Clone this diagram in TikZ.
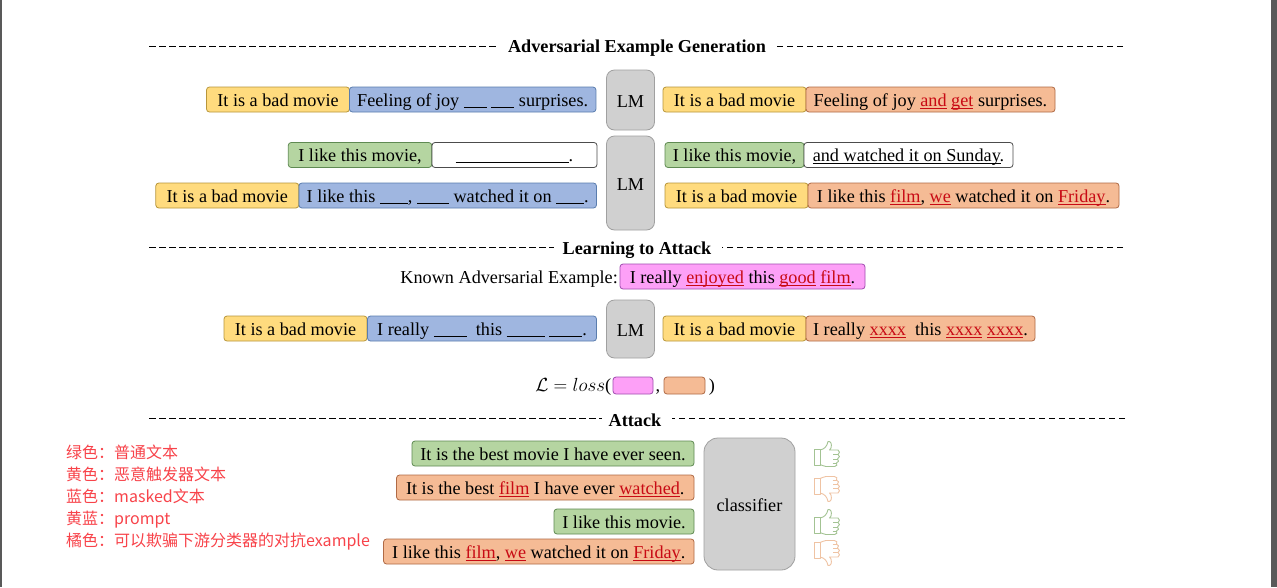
\documentclass[tikz,border=0pt]{standalone}
\usepackage{fontspec}
\setmainfont{Liberation Serif}
\newfontfamily\cjkf{Noto Sans CJK SC}
\definecolor{yelF}{HTML}{FFDB7E}\definecolor{yelD}{HTML}{B8963A}
\definecolor{bluF}{HTML}{9FB6E0}\definecolor{bluD}{HTML}{5A7DAE}
\definecolor{grnF}{HTML}{B5D5A1}\definecolor{grnD}{HTML}{5F8A52}
\definecolor{orgF}{HTML}{F5BB95}\definecolor{orgD}{HTML}{B06A45}
\definecolor{pnkF}{HTML}{FDA0F7}\definecolor{pnkD}{HTML}{A04CB0}
\definecolor{gryF}{HTML}{D0D0D0}\definecolor{gryD}{HTML}{A0A0A0}
\definecolor{redT}{HTML}{C80A14}\definecolor{legT}{HTML}{F8434A}
\definecolor{thU}{HTML}{A3C393}\definecolor{thD}{HTML}{EFC3A3}
\newlength{\ulwd}
\newcommand{\ulin}[1]{\settowidth{\ulwd}{#1}\rlap{\rule[-2.4pt]{\ulwd}{0.9pt}}#1}
\newcommand{\ru}[1]{\textcolor{redT}{\ulin{#1}}}
\newcommand{\bl}[1]{\rule[-1.6pt]{#1pt}{0.7pt}}
\tikzset{
 x=1pt,y=-1pt,
 box/.style={draw,rounded corners=3pt,line width=0.8pt,inner sep=0pt,outer sep=0pt,anchor=center,font=\fontsize{18.2}{20}\selectfont,minimum height=25pt,text height=15pt,text depth=2pt},
 yel/.style={box,fill=yelF,draw=yelD},
 blu/.style={box,fill=bluF,draw=bluD},
 grn/.style={box,fill=grnF,draw=grnD},
 org/.style={box,fill=orgF,draw=orgD},
 pnk/.style={box,fill=pnkF,draw=pnkD},
 wht/.style={box,fill=white,draw=black!70},
 lm/.style={draw=gryD,fill=gryF,rounded corners=8pt,line width=0.8pt,inner sep=0pt,font=\fontsize{18.2}{20}\selectfont,text height=14pt,text depth=0pt},
 head/.style={font=\fontsize{18.2}{20}\selectfont\bfseries,inner sep=0pt,anchor=base},
 txt/.style={font=\fontsize{18.2}{20}\selectfont,inner sep=0pt},
 dsh/.style={draw=black,line width=1pt,dash pattern=on 6.5pt off 3.5pt},
 leg/.style={font=\cjkf\fontsize{16}{18}\selectfont,text=legT,inner sep=0pt,anchor=base west},
 thumb/.style={line width=0.9pt,fill=none,line join=round},
}
\newcommand{\thumbshape}{%
  \draw[thumb] (0,8) -- (6,8) -- (6,24) -- (0,24) -- cycle;
  \draw[thumb] (6,9) .. controls (11,8) and (13,5) .. (14,0.5) .. controls (17,0) and (18,3) .. (17,7) -- (15.5,9) -- (24,9) .. controls (26,10) and (26,12.5) .. (24,13.5) .. controls (26,14) and (26,17) .. (23.5,18) .. controls (25,19) and (25,21.5) .. (22.5,22) .. controls (23.5,23.5) and (23,25.5) .. (20.5,25.5) -- (12,25.5) .. controls (10,25.5) and (8,24) .. (6,23.5);
  \draw[thumb] (19,13.5) -- (24,13.5) (19,18) -- (23.5,18) (18.5,22) -- (22.5,22);}
\newcommand{\thumbup}[3]{\begin{scope}[shift={(#1,#2)},draw=#3]\thumbshape\end{scope}}
\newcommand{\thumbdown}[3]{\begin{scope}[shift={(#1,#2)},yscale=-1,draw=#3]\thumbshape\end{scope}}
\begin{document}
\begin{tikzpicture}
\useasboundingbox (0,0) rectangle (1277,587);
\fill[white] (0,0) rectangle (1277,587);
\fill[black!65] (0,0) rectangle (2,587);
\fill[black!65] (1271,0) rectangle (1277,587);
% headings
\node[head] (h1) at (637,52.5) {Adversarial Example Generation};
\coordinate (h1a) at (149,46.5); \coordinate (h1b) at (1123,46.5);
\draw[dsh] (h1a) -- ([xshift=-10pt]h1.west |- h1a);
\draw[dsh] (h1b) -- ([xshift=10pt]h1.east |- h1b);
\node[head] (h2) at (637,254) {Learning to Attack};
\coordinate (h2a) at (149,247.5); \coordinate (h2b) at (1123,247.5);
\draw[dsh] (h2a) -- ([xshift=-8pt]h2.west |- h2a);
\draw[dsh] (h2b) -- ([xshift=10pt]h2.east |- h2b);
\node[head] (h3) at (635,426) {Attack};
\coordinate (h3a) at (149,418.5); \coordinate (h3b) at (1125,418.5);
\draw[dsh] (h3a) -- ([xshift=-7pt]h3.west |- h3a);
\draw[dsh] (h3b) -- ([xshift=11pt]h3.east |- h3b);
% row 1
\node[yel,minimum width=143pt] (a1) at (278,99.5) {It is a bad movie};
\node[blu,minimum width=246.5pt] (a2) at (472.7,99.5) {Feeling of joy \bl{23} \bl{23} surprises.};
\node[lm,minimum width=48pt,minimum height=60pt] (lm1) at (630.5,100) {LM};
\node[yel,minimum width=143pt] (a3) at (734.5,99.5) {It is a bad movie};
\node[org,minimum width=249pt] (a4) at (930.5,99.5) {Feeling of joy \ru{and} \ru{get} surprises.};
% row 2
\node[grn,minimum width=143.5pt] (b1) at (360,155) {I like this movie,};
\node[wht,minimum width=165pt] (b2) at (514.5,155) {\bl{113}.};
\node[lm,minimum width=48pt,minimum height=94pt] (lm2) at (630.5,183) {LM};
\node[grn,minimum width=139pt] (b3) at (734.5,155) {I like this movie,};
\node[wht,minimum width=209pt] (b4) at (908.5,155) {\ulin{and watched it on Sunday}.};
% row 3
\node[yel,minimum width=143pt] (c1) at (227.3,195.5) {It is a bad movie};
\node[blu,minimum width=297.5pt] (c2) at (447.7,195.5) {I like this \bl{28}, \bl{32} watched it on \bl{28}.};
\node[yel,minimum width=143pt] (c3) at (736.5,195.5) {It is a bad movie};
\node[org,minimum width=311pt] (c4) at (963.5,195.5) {I like this \ru{film}, \ru{we} watched it on \ru{Friday}.};
% learning to attack
\node[pnk,minimum width=245pt] (k2) at (742.5,276.5) {I really \ru{enjoyed} this \ru{good} \ru{film}.};
\node[txt,anchor=base east] (k1) at (618,283) {Known Adversarial Example:};
\node[yel,minimum width=143pt] (d1) at (295.5,328.5) {It is a bad movie};
\node[blu,minimum width=229pt] (d2) at (482,328.5) {I really \bl{33}\ \ this \bl{38} \bl{33}.};
\node[lm,minimum width=48pt,minimum height=58pt] (lm3) at (630.5,329) {LM};
\node[yel,minimum width=143pt] (d3) at (734.5,328.5) {It is a bad movie};
\node[org,minimum width=229pt] (d4) at (920.5,328.5) {I really \ru{xxxx}\ \ this \ru{xxxx} \ru{xxxx}.};
% loss
\node[txt,anchor=base east,font=\fontsize{16.8}{20}\selectfont,scale=1.1] (l1) at (611.5,391) {$\mathcal{L}=loss$(};
\node[pnk,minimum width=40pt,minimum height=17pt,text height=0pt,text depth=0pt] (l2) at (633,385.5) {};
\node[txt,anchor=base] (l3) at (658,391) {,};
\node[org,minimum width=41pt,minimum height=17pt,text height=0pt,text depth=0pt] (l4) at (684.5,385.5) {};
\node[txt,anchor=base] (l5) at (712,391) {)};
% attack
\node[grn,minimum width=282pt] (e1) at (553,453.5) {It is the best movie I have ever seen.};
\node[org,minimum width=297.5pt] (e2) at (545.3,487.5) {It is the best \ru{film} I have ever \ru{watched}.};
\node[grn,minimum width=140pt] (e3) at (624,521.5) {I like this movie.};
\node[org,minimum width=310.5pt] (e4) at (538.8,551.5) {I like this \ru{film}, \ru{we} watched it on \ru{Friday}.};
\node[lm,minimum width=91pt,minimum height=132pt,rounded corners=14pt] (cl) at (749.5,504) {classifier};
\thumbup{814}{441}{thU}
\thumbdown{814}{502}{thD}
\thumbup{814}{509}{thU}
\thumbdown{814}{566}{thD}
% legend
\node[leg] (g1) at (66,458) {绿色：普通文本};
\node[leg] (g2) at (66,480) {黄色：恶意触发器文本};
\node[leg] (g3) at (66,502) {蓝色：masked文本};
\node[leg] (g4) at (66,524) {黄蓝：prompt};
\node[leg] (g5) at (66,546) {橘色：可以欺骗下游分类器的对抗example};
\end{tikzpicture}
\end{document}
